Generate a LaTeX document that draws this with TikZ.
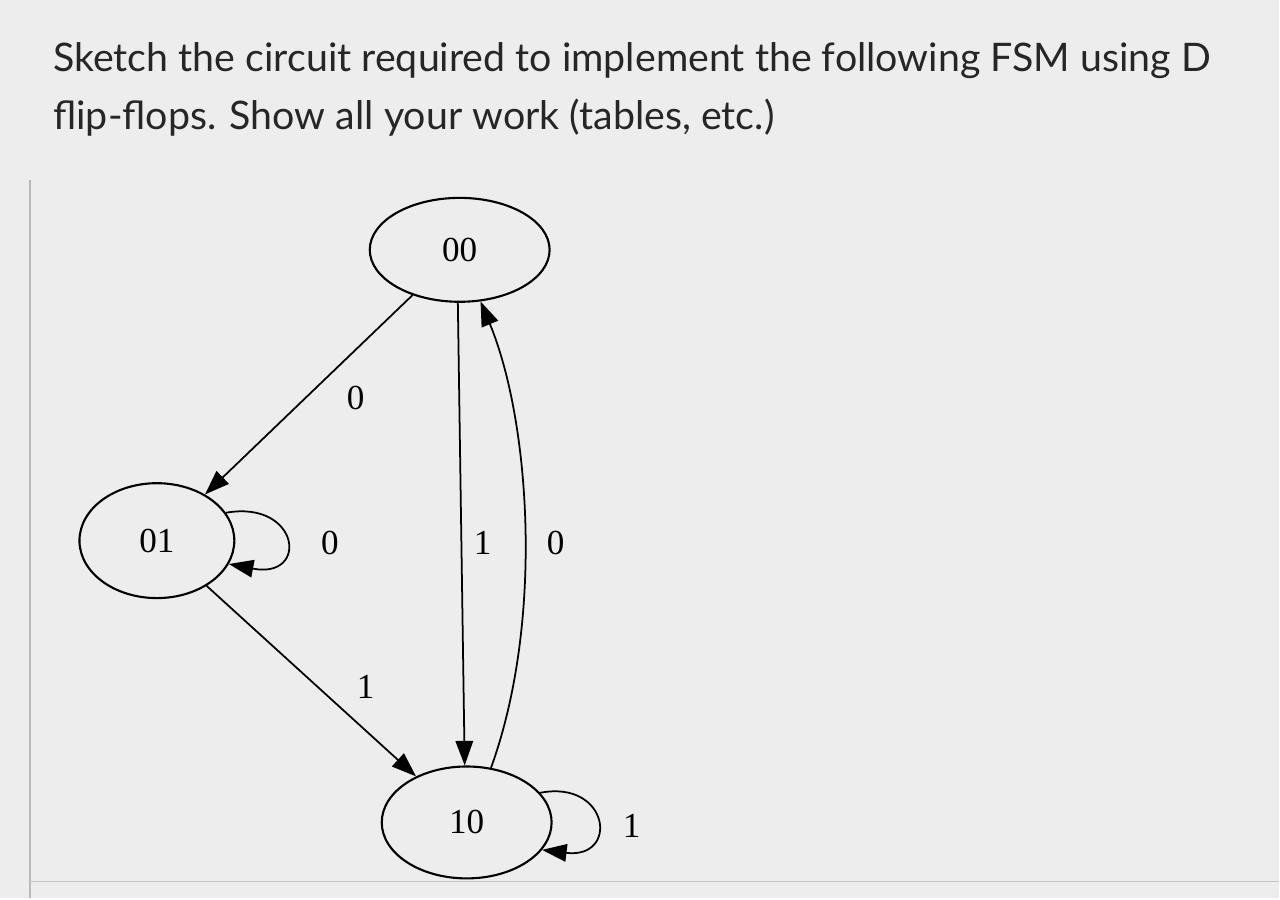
\documentclass[tikz,border=0pt]{standalone}
\usepackage{fontspec}
\setmainfont{Liberation Serif}
\newfontfamily\titlefont{Lato}
\usetikzlibrary{shapes.geometric,arrows.meta}
\tikzset{
  st/.style={draw, ellipse, line width=1.2pt, font=\fontsize{20}{24}\selectfont},
  tr/.style={line width=1pt, -{Triangle[length=14pt,width=10pt]}},
  lbl/.style={font=\fontsize{20}{24}\selectfont, inner sep=0pt},
  ttl/.style={anchor=base west, inner sep=0pt, font=\titlefont\fontsize{22.4}{26}\selectfont, text=black!85}
}
\begin{document}
\begin{tikzpicture}[x=0.02cm,y=-0.02cm]
\fill[gray!14] (0,0) rectangle (1280,899);
\draw[gray!55, line width=1pt] (30,180) -- (30,899);
\draw[gray!45, line width=1pt] (30,882) -- (1280,882);
\node[ttl] (t1) at (53,72) {Sketch the circuit required to implement the following FSM using D};
\node[ttl] (t2) at (53,130) {flip-flops. Show all your work (tables, etc.)};
\node[st, minimum width=3.6cm, minimum height=2.08cm] (s00) at (460,250) {00};
\node[st, minimum width=3.1cm, minimum height=2.3cm] (s01) at (157,541) {01};
\node[st, minimum width=3.4cm, minimum height=2.24cm] (s10) at (467,823) {10};
\draw[tr] (s00) -- (s01);
\node[lbl] (l1) at (356,398) {0};
\draw[tr] (s00.-92) -- (s10.92);
\node[lbl] (l2) at (483,543) {1};
\draw[tr] (s10.66) .. controls (545,620) and (530,420) .. (s00.-68);
\node[lbl] (l3) at (556,543) {0};
\draw[tr] (s01) -- (s10);
\node[lbl] (l4) at (366,687) {1};
\draw[tr] (s01.22) .. controls (300,500) and (310,580) .. (s01.-18);
\node[lbl] (l5) at (330,543) {0};
\draw[tr] (s10.22) .. controls (610,780) and (620,860) .. (s10.-20);
\node[lbl] (l6) at (632,826) {1};
\end{tikzpicture}
\end{document}
